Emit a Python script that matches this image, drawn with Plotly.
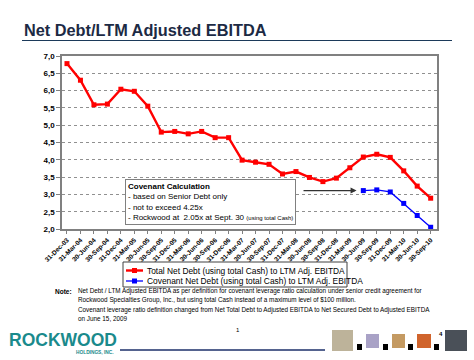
import plotly.graph_objects as go

categories = ["31-Dec-03", "31-Mar-04", "30-Jun-04", "30-Sep-04", "31-Dec-04", "31-Mar-05",
              "30-Jun-05", "30-Sep-05", "31-Dec-05", "31-Mar-06", "30-Jun-06", "30-Sep-06",
              "31-Dec-06", "31-Mar-07", "30-Jun-07", "30-Sep-07", "31-Dec-07", "31-Mar-08",
              "30-Jun-08", "30-Sep-08", "31-Dec-08", "31-Mar-09", "30-Jun-09", "30-Sep-09",
              "31-Dec-09", "31-Mar-10", "30-Jun-10", "30-Sep-10"]

total_net_debt = [6.78, 6.30, 5.59, 5.61, 6.04, 5.98, 5.55, 4.80, 4.82, 4.75, 4.82, 4.64,
                  4.64, 3.99, 3.93, 3.87, 3.59, 3.66, 3.49, 3.37, 3.47, 3.77, 4.08, 4.16,
                  4.07, 3.68, 3.24, 2.89]

covenant_net_debt = [None] * 22 + [3.11, 3.13, 3.07, 2.74, 2.39, 2.05]

series_names = ["Total Net Debt (using total Cash) to LTM Adj. EBITDA",
                "Covenant Net Debt (using total Cash) to LTM Adj. EBITDA"]
series_colors = ["#ff0000", "#0000ff"]
series_widths = [2.4, 1.3]

FONT = "Arial, Liberation Sans, sans-serif"
W, H = 474, 360

def px(x):
    return x / W

def py(y):
    return (H - y) / H

xs = list(range(len(categories)))

fig = go.Figure()
for vals, name, col, lw in zip([total_net_debt, covenant_net_debt], series_names, series_colors, series_widths):
    fig.add_trace(go.Scatter(
        x=xs, y=vals, mode="lines+markers", name=name,
        line=dict(color=col, width=lw),
        marker=dict(symbol="square", size=5, color=col),
    ))

fig.update_layout(
    width=W, height=H,
    margin=dict(l=0, r=0, t=0, b=0, autoexpand=False),
    paper_bgcolor="white", plot_bgcolor="white",
    separators=",.",
    font=dict(family=FONT, color="black"),
    showlegend=False,
    xaxis=dict(
        domain=[px(62), px(437)],
        range=[-0.37, 27.47],
        automargin=False,
        tickmode="array", tickvals=xs, ticktext=categories,
        tickangle=-45,
        tickfont=dict(size=6.5, family=FONT, color="black", weight="bold"),
        showgrid=False, zeroline=False,
        showline=True, linecolor="#808080", linewidth=1.5, mirror=True,
        ticks="outside", ticklen=3, tickcolor="#808080",
    ),
    yaxis=dict(
        domain=[py(229), py(56)],
        range=[2.0, 7.0], dtick=0.5, tick0=2.0, tickformat=".1f",
        automargin=False,
        tickfont=dict(size=8, family=FONT, color="black", weight="bold"),
        showgrid=True, gridcolor="#909090", griddash="dot", gridwidth=1,
        zeroline=False,
        showline=True, linecolor="#808080", linewidth=1.5, mirror=True,
        ticks="outside", ticklen=4, tickcolor="#808080",
    ),
)

annotations = []
# Title
annotations.append(dict(
    x=px(22), y=py(30), xref="paper", yref="paper", xanchor="left", yanchor="middle",
    text="<b>Net Debt/LTM Adjusted EBITDA</b>", showarrow=False,
    font=dict(size=16.3, family=FONT, color="#1c2a44"),
))
# Covenant box
annotations.append(dict(
    x=px(125), y=py(179), xref="paper", yref="paper", xanchor="left", yanchor="top",
    text=("<b>Covenant Calculation</b><br>- based on Senior Debt only<br>- not to exceed 4.25x"
          "<br>- Rockwood at  2.05x at Sept. 30 <span style='font-size:6px'>(using total Cash)</span>"),
    showarrow=False, align="left",
    font=dict(size=8, family=FONT, color="black"),
    bordercolor="#808080", borderwidth=1, borderpad=2, bgcolor="white",
))
# Arrow
annotations.append(dict(
    x=21.5, y=3.11, xref="x", yref="y",
    ax=17.45, ay=3.11, axref="x", ayref="y",
    text="", showarrow=True, arrowhead=2, arrowsize=1, arrowwidth=1.2, arrowcolor="#333333",
))
# Legend texts (drawn manually for compact row spacing)
legend_rows_y = [270.5, 281]
for yy, name in zip(legend_rows_y, series_names):
    annotations.append(dict(
        x=px(144.5), y=py(yy), xref="paper", yref="paper", xanchor="left", yanchor="middle",
        text=name, showarrow=False, font=dict(size=8.4, family=FONT, color="black"),
    ))
# Notes
annotations.append(dict(
    x=px(53), y=py(291), xref="paper", yref="paper", xanchor="left", yanchor="middle",
    text="<b>Note:</b>", showarrow=False, font=dict(size=6.5, family=FONT, color="black"),
))
note_lines = [
    (291, "Net Debt / LTM Adjusted EBITDA as per definition for covenant leverage ratio calculation under senior credit agreement for"),
    (299.5, "Rockwood Specialties Group, Inc., but using total Cash instead of a maximum level of $100 million."),
    (310, "Covenant leverage ratio definition changed from Net Total Debt to Adjusted EBITDA to Net Secured Debt to Adjusted EBITDA"),
    (318.5, "on June 15, 2009"),
]
for yy, t in note_lines:
    annotations.append(dict(
        x=px(76), y=py(yy), xref="paper", yref="paper", xanchor="left", yanchor="middle",
        text=t, showarrow=False, font=dict(size=6.35, family=FONT, color="black"),
    ))
# Logo
annotations.append(dict(
    x=px(7), y=py(340), xref="paper", yref="paper", xanchor="left", yanchor="middle",
    text="<b>ROCKWOOD</b>", showarrow=False, font=dict(size=17.5, family=FONT, color="#1a8a8c"),
))
annotations.append(dict(
    x=px(116), y=py(352.5), xref="paper", yref="paper", xanchor="right", yanchor="middle",
    text="<b>HOLDINGS, INC.</b>", showarrow=False, font=dict(size=4.8, family=FONT, color="#1a8a8c"),
))
# Page numbers
annotations.append(dict(
    x=px(238), y=py(330), xref="paper", yref="paper", xanchor="center", yanchor="middle",
    text="1", showarrow=False, font=dict(size=6, family=FONT, color="black"),
))
annotations.append(dict(
    x=px(441), y=py(334), xref="paper", yref="paper", xanchor="center", yanchor="middle",
    text="<b>4</b>", showarrow=False, font=dict(size=6, family=FONT, color="black"),
))
fig.update_layout(annotations=annotations)

shapes = []
# Title underline
shapes.append(dict(type="line", xref="paper", yref="paper", x0=px(22), x1=px(452), y0=py(40.5), y1=py(40.5),
                   line=dict(color="#1c3a5a", width=1.2)))
# Legend box, sample lines and markers
shapes.append(dict(type="rect", xref="paper", yref="paper", x0=px(123), x1=px(347), y0=py(287), y1=py(262),
                   line=dict(color="#404040", width=1), fillcolor="rgba(0,0,0,0)"))
for yy, col, lw in zip(legend_rows_y, series_colors, series_widths):
    shapes.append(dict(type="line", xref="paper", yref="paper", x0=px(126), x1=px(143), y0=py(yy), y1=py(yy),
                       line=dict(color=col, width=lw)))
    shapes.append(dict(type="rect", xref="paper", yref="paper", x0=px(132), x1=px(137), y0=py(yy + 2.5), y1=py(yy - 2.5),
                       fillcolor=col, line=dict(width=0)))
# Footer line
shapes.append(dict(type="line", xref="paper", yref="paper", x0=px(120), x1=px(325), y0=py(350), y1=py(350),
                   line=dict(color="#1c2f6a", width=1.5)))
# Footer pictures (approximated as coloured tiles) and small black squares
tiles = [
    (332, 330, 353, 351, "#bdb39a"),
    (366, 334, 379, 348, "#a9a2c6"),
    (392, 334, 405, 348, "#c49a62"),
    (417, 334, 431, 348, "#d0642c"),
    (445, 330, 467, 351, "#4a5058"),
]
for x0, y0, x1, y1, c in tiles:
    shapes.append(dict(type="rect", xref="paper", yref="paper", x0=px(x0), x1=px(x1), y0=py(y1), y1=py(y0),
                       fillcolor=c, line=dict(width=0)))
for x0 in [357, 383, 408, 434]:
    shapes.append(dict(type="rect", xref="paper", yref="paper", x0=px(x0), x1=px(x0 + 5), y0=py(350), y1=py(344),
                       fillcolor="black", line=dict(width=0)))
fig.update_layout(shapes=shapes)

fig.write_html("out.html",
               config={"displayModeBar": False},
               post_script="document.body.style.margin='0px';document.body.style.padding='0px';")
